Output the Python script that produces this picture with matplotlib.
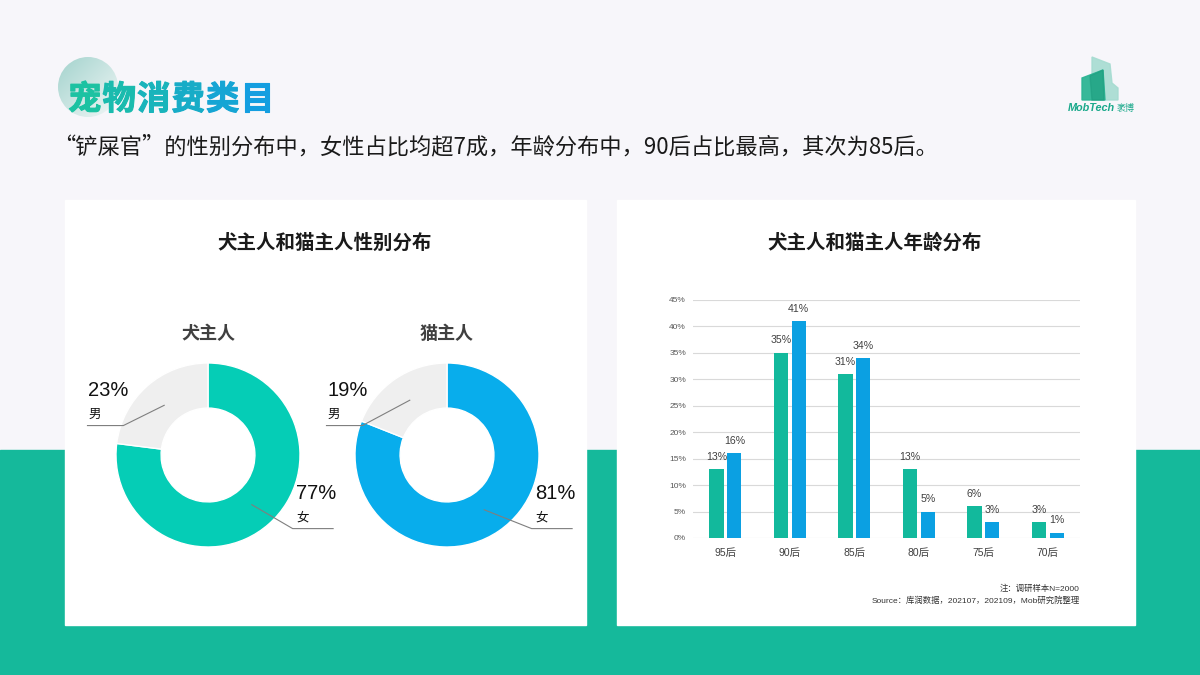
import numpy as np
import matplotlib.pyplot as plt
import matplotlib.patheffects as pe
from matplotlib.patches import Rectangle, Circle, Polygon

plt.rcParams['font.family'] = ['Liberation Sans', 'Noto Sans CJK SC', 'DejaVu Sans']

# ---- data ----
title = "宠物消费类目"
subtitle = "“铲屎官”的性别分布中，女性占比均超7成，年龄分布中，90后占比最高，其次为85后。"
pie_titles = ["犬主人", "猫主人"]
gender_labels = ["女", "男"]
dog_gender = [77, 23]
cat_gender = [81, 19]
age_groups = ["95后", "90后", "85后", "80后", "75后", "70后"]
dog_age = [13, 35, 31, 13, 6, 3]
cat_age = [16, 41, 34, 5, 3, 1]
yticks = [0, 5, 10, 15, 20, 25, 30, 35, 40, 45]
note1 = "注：调研样本N=2000"
note2 = "Source：库润数据，202107，202109，Mob研究院整理"

teal = "#12B99C"
teal_pie = "#05CDB6"
blue_pie = "#08ADEC"
blue = "#0BA0E2"
grey_slice = "#EFEFEF"
dark = "#404040"

W, H = 1200, 675
fig = plt.figure(figsize=(12, 6.75), dpi=100)

# background layer in pixel coords
bg = fig.add_axes([0, 0, 1, 1], zorder=0)
bg.set_xlim(0, W)
bg.set_ylim(H, 0)
bg.axis('off')
bg.add_patch(Rectangle((0, 0), W, H, color="#F7F6FA"))
bg.add_patch(Rectangle((0, 450), W, 225, color="#15B99B"))
bg.add_patch(Rectangle((65, 200), 521, 425, color="white"))
bg.add_patch(Rectangle((617, 200), 518, 425, color="white"))

# decorative circle with soft gradient
gy, gx = np.mgrid[0:1:100j, 0:1:100j]
g = np.clip((gx + gy) / 2, 0, 1)
cA = np.array([0xA3, 0xD3, 0xCD]) / 255
cB = np.array([0xF2, 0xF7, 0xF7]) / 255
img = cA[None, None, :] * (1 - g[..., None]) + cB[None, None, :] * g[..., None]
circ = Circle((88, 87), 30, facecolor='none', edgecolor='none')
bg.add_patch(circ)
im = bg.imshow(img, extent=(58, 118, 117, 57), zorder=1)
im.set_clip_path(circ)
bg.set_xlim(0, W)
bg.set_ylim(H, 0)

# title with teal -> blue gradient, one char at a time
c0 = np.array([0x1C, 0xC2, 0xA2]) / 255
c1 = np.array([0x14, 0x9E, 0xE0]) / 255
for i, ch in enumerate(title):
    t = i / (len(title) - 1)
    col = tuple(c0 * (1 - t) + c1 * t)
    bg.text(68 + i * 34.5, 100, ch, fontsize=24, fontweight='heavy',
            color=col, va='center', ha='left', zorder=3,
            family=['Noto Sans CJK SC'],
            path_effects=[pe.withStroke(linewidth=0.8, foreground=col)])
bg.text(53, 147, subtitle, fontsize=16, color="#1A1A1A", va='center', ha='left',
        family=['Noto Sans CJK SC'])

# logo
bg.add_patch(Polygon([(1092, 57), (1110, 64), (1112, 83), (1118, 88), (1118, 100), (1092, 100)],
                     color="#A6DCD1", alpha=0.9, zorder=2))
bg.add_patch(Polygon([(1082, 78), (1103, 70), (1105, 100), (1082, 100)],
                     color="#2DB594", alpha=0.95, zorder=2))
bg.add_patch(Polygon([(1090, 76), (1103, 70), (1104, 100), (1092, 100)],
                     color="#1F9E80", alpha=0.6, zorder=2))
bg.text(1115, 108, "MobTech", fontsize=7.8, fontweight='bold', style='italic', color="#1BA98B",
        ha='right', va='center')
bg.text(1117, 108, "袤博", fontsize=6.5, color="#1BA98B", ha='left', va='center',
        family=['Noto Sans CJK SC'])

# panel titles
bg.text(325, 243, "犬主人和猫主人性别分布", fontsize=14, fontweight='bold', color="#1A1A1A",
        ha='center', va='center', family=['Noto Sans CJK SC'])
bg.text(875, 243, "犬主人和猫主人年龄分布", fontsize=14, fontweight='bold', color="#1A1A1A",
        ha='center', va='center', family=['Noto Sans CJK SC'])

# ---- donuts ----
R = 92
def donut(cx, cy, vals, col, name):
    ax = fig.add_axes([(cx - R) / W, (H - cy - R) / H, 2 * R / W, 2 * R / H], zorder=2)
    wedges, _ = ax.pie(vals, colors=[col, grey_slice], startangle=90, counterclock=False,
                       radius=1, wedgeprops=dict(width=0.49, edgecolor='white', linewidth=1))
    ax.set_xlim(-1, 1)
    ax.set_ylim(-1, 1)
    ax.set_aspect('equal')
    ax.axis('off')
    ax.text(0, 1.32, name, fontsize=13, fontweight='bold', color=dark, ha='center', va='center',
            family=['Noto Sans CJK SC'])
    for k, w in enumerate(wedges):
        mid = np.deg2rad((w.theta1 + w.theta2) / 2)
        r0 = 0.72
        sx, sy = r0 * np.cos(mid), r0 * np.sin(mid)
        side = np.sign(np.cos(mid))
        if side > 0:
            ex, ey, endx, tx = 0.92, -0.80, 1.36, 0.96
        else:
            ex, ey, endx, tx = -0.92, 0.32, -1.31, -1.30
        ax.plot([sx, ex, endx], [sy, ey, ey], color="#7F7F7F", lw=0.8, clip_on=False)
        ax.text(tx, ey + 0.38, f"{vals[k]}%", fontsize=14.5, color="#111111",
                ha='left', va='center', clip_on=False)
        ax.text(tx, ey + 0.12, gender_labels[k], fontsize=9, color="#111111",
                ha='left', va='center', clip_on=False, family=['Noto Sans CJK SC'])

donut(208, 455, dog_gender, teal_pie, pie_titles[0])
donut(447, 455, cat_gender, blue_pie, pie_titles[1])

# ---- bar chart ----
ax = fig.add_axes([693 / W, (H - 538) / H, (1080 - 693) / W, (538 - 300) / H], zorder=2)
ax.set_facecolor('none')
x = np.arange(len(age_groups))
bw = 0.22
b1 = ax.bar(x - 0.135, dog_age, bw, color=teal, zorder=3)
b2 = ax.bar(x + 0.14, cat_age, bw, color=blue, zorder=3)
for bars, vals in [(b1, dog_age), (b2, cat_age)]:
    for b, v in zip(bars, vals):
        ax.text(b.get_x() + b.get_width() / 2, v + 1.4, f"{v}%", fontsize=7.6, color=dark,
                ha='center', va='bottom')
ax.set_xlim(-0.5, 5.5)
ax.set_ylim(0, 45)
ax.set_yticks(yticks)
ax.set_yticklabels([f"{v}%" for v in yticks], fontsize=6, color="#595959")
ax.set_xticks(x)
ax.set_xticklabels(age_groups, fontsize=7.5, color=dark, family=['Liberation Sans', 'Noto Sans CJK SC'])
ax.tick_params(axis='y', length=0, pad=5)
ax.tick_params(axis='x', length=0, pad=7)
ax.grid(axis='y', color="#D9D9D9", lw=0.8, zorder=0)
for s in ax.spines.values():
    s.set_visible(False)

bg.text(1080, 589, note1, fontsize=6, color="#333333", ha='right', va='center')
bg.text(1080, 601, note2, fontsize=6, color="#333333", ha='right', va='center')

fig.savefig("out.png", dpi=100)
